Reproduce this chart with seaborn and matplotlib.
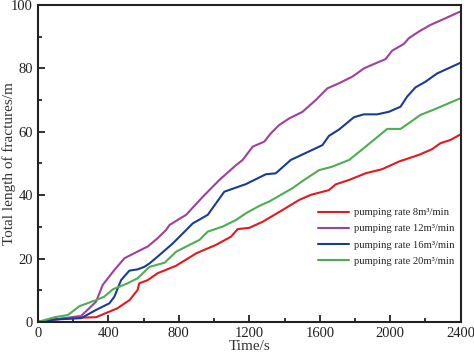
import seaborn as sns
import matplotlib.pyplot as plt
import pandas as pd
from matplotlib.ticker import MultipleLocator

t_8 = [0, 100, 200, 330, 450, 520, 566, 575, 623, 680, 783, 900, 1010, 1096, 1134, 1200,
       1275, 1388, 1483, 1549, 1652, 1690, 1766, 1860, 1954, 2049, 2162, 2237, 2285, 2341, 2400]
v_8 = [0, 0.8, 1.3, 1.5, 4.3, 6.9, 10.1, 12.2, 13.2, 15.4, 17.7, 21.7, 24.3, 26.9, 29.3, 29.7,
       31.6, 35.3, 38.5, 40.1, 41.6, 43.4, 44.8, 46.9, 48.2, 50.6, 52.7, 54.5, 56.4, 57.4, 59.2]

t_12 = [0, 100, 189, 245, 330, 368, 434, 491, 547, 623, 679, 727, 747, 841, 936, 1030, 1125,
        1162, 1219, 1285, 1322, 1369, 1426, 1502, 1577, 1643, 1709, 1785, 1851, 1917, 1973,
        2011, 2077, 2105, 2162, 2228, 2313, 2400]
v_12 = [0, 0.8, 1.5, 1.9, 6.4, 11.7, 16.4, 20.1, 21.7, 23.8, 26.4, 29, 30.6, 33.8, 39.5, 44.8,
        49.5, 51.1, 55.3, 56.9, 59.5, 62.1, 64.2, 66.3, 70, 73.7, 75.3, 77.4, 80, 81.6, 82.9,
        85.6, 87.7, 89.5, 91.6, 93.7, 95.8, 98]

t_16 = [0, 100, 245, 330, 406, 434, 472, 519, 566, 604, 634, 679, 766, 879, 964, 1058, 1181,
        1294, 1350, 1435, 1558, 1615, 1652, 1709, 1794, 1850, 1926, 1992, 2058, 2096, 2143,
        2200, 2266, 2400]
v_16 = [0, 0.8, 1.2, 3.8, 5.9, 8, 13.2, 16.2, 16.6, 17.4, 18.5, 20.6, 24.8, 31.1, 33.8, 41.1,
        43.5, 46.6, 46.9, 51.1, 54.3, 55.8, 58.7, 60.7, 64.6, 65.5, 65.5, 66.3, 67.9, 71.1, 74,
        75.8, 78.4, 81.8]

t_20 = [0, 94, 170, 236, 330, 377, 425, 509, 566, 634, 719, 785, 917, 964, 1049, 1125, 1181,
        1256, 1313, 1388, 1445, 1511, 1596, 1671, 1766, 1860, 1917, 1983, 2058, 2105, 2171,
        2256, 2400]
v_20 = [0, 1.5, 2.2, 5, 6.9, 8, 10.3, 12.2, 13.8, 17.4, 18.7, 22.2, 25.9, 28.5, 30.1, 32.2,
        34.3, 36.6, 38, 40.4, 42.2, 44.8, 47.9, 49, 51.1, 55.3, 57.9, 60.9, 60.9, 62.7, 65.3,
        67.2, 70.6]

labels = ['pumping rate 8m³/min', 'pumping rate 12m³/min',
          'pumping rate 16m³/min', 'pumping rate 20m³/min']
colors = ['#e8171c', '#a0409c', '#183c96', '#4cae50']

# long dataframe for seaborn
frames = []
for lab, t, v in zip(labels, [t_8, t_12, t_16, t_20], [v_8, v_12, v_16, v_20]):
    frames.append(pd.DataFrame({'time': t, 'length': v, 'rate': lab}))
df = pd.concat(frames, ignore_index=True)

sns.set_style('ticks')
plt.rcParams['font.family'] = ['Liberation Serif', 'DejaVu Serif']

fig = plt.figure(figsize=(4.74, 3.55), dpi=100)
ax = fig.add_axes([0.080, 0.093, 0.892, 0.893])

sns.lineplot(data=df, x='time', y='length', hue='rate', palette=colors,
             linewidth=1.5, sort=False, estimator=None, ax=ax)

ax.set_xlim(0, 2400)
ax.set_ylim(0, 100)
ax.xaxis.set_major_locator(MultipleLocator(400))
ax.xaxis.set_minor_locator(MultipleLocator(200))
ax.yaxis.set_major_locator(MultipleLocator(20))
ax.yaxis.set_minor_locator(MultipleLocator(10))
ax.tick_params(which='major', direction='in', length=5, width=1.3, labelsize=10.5, colors='#222222')
ax.tick_params(which='minor', direction='in', length=3, width=1.3)
for s in ax.spines.values():
    s.set_linewidth(1.5)
    s.set_color('#222222')

ax.set_xlabel('Time/s', fontsize=11, labelpad=0, color='#333333')
ax.set_ylabel('Total length of fractures/m', fontsize=11, color='#333333')
ax.yaxis.set_label_coords(-0.052, 0.5)

ax.legend(loc='upper left', bbox_to_anchor=(0.64, 0.39), frameon=False,
          fontsize=7.6, handlelength=2.9, labelspacing=0.65, handletextpad=0.5)

fig.savefig('out.png', dpi=100)
